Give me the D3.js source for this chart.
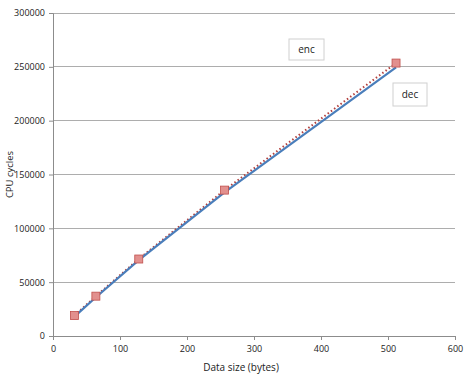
<!DOCTYPE html>
<html>
<head>
<meta charset="utf-8">
<script src="https://cdn.jsdelivr.net/npm/d3@7"></script>
<style>
  body { margin: 0; background: #fff; }
  svg text { font-family: "Open Sans", "DejaVu Sans", sans-serif; fill: #222; }
</style>
</head>
<body>
<svg id="chart" width="474" height="375"></svg>
<script>
// data
const sizes = [32, 64, 128, 256, 512];
const encCycles = [19000, 37000, 71500, 135500, 253500];
const decCycles = [18000, 36000, 70500, 133500, 249500];
const xTicks = [0, 100, 200, 300, 400, 500, 600];
const yTicks = [0, 50000, 100000, 150000, 200000, 250000, 300000];

const width = 474, height = 375;
const margin = { top: 13, right: 19, bottom: 39, left: 53 };

const svg = d3.select("#chart");

const x = d3.scaleLinear().domain([0, 600]).range([margin.left, width - margin.right]);
const y = d3.scaleLinear().domain([0, 300000]).range([height - margin.bottom, margin.top]);

// grid
svg.append("g")
  .selectAll("line")
  .data(yTicks.slice(1))
  .join("line")
  .attr("x1", x(0)).attr("x2", x(600))
  .attr("y1", d => y(d)).attr("y2", d => y(d))
  .attr("stroke", "#adadad")
  .attr("stroke-width", 1)
  .attr("shape-rendering", "crispEdges");

// axes
const yAxis = d3.axisLeft(y).tickValues(yTicks).tickFormat(d3.format("d")).tickSize(4).tickPadding(4);
const xAxis = d3.axisBottom(x).tickValues(xTicks).tickFormat(d3.format("d")).tickSize(4).tickPadding(6);

svg.append("g")
  .attr("transform", `translate(${margin.left},0)`)
  .call(yAxis)
  .call(g => g.selectAll("line, path").attr("stroke", "#8c8c8c"))
  .call(g => g.selectAll("text").attr("font-size", 9));

svg.append("g")
  .attr("transform", `translate(0,${height - margin.bottom})`)
  .call(xAxis)
  .call(g => g.selectAll("line, path").attr("stroke", "#8c8c8c"))
  .call(g => g.selectAll("text").attr("font-size", 9));

// axis titles
svg.append("text")
  .attr("transform", `translate(13,${(y(0) + y(300000)) / 2}) rotate(-90)`)
  .attr("text-anchor", "middle")
  .attr("font-size", 9.5)
  .text("CPU cycles");

svg.append("text")
  .attr("x", 241)
  .attr("y", 371)
  .attr("text-anchor", "middle")
  .attr("font-size", 10)
  .text("Data size (bytes)");

const line = d3.line().x(d => x(d[0])).y(d => y(d[1]));
const encPts = sizes.map((s, i) => [s, encCycles[i]]);
const decPts = sizes.map((s, i) => [s, decCycles[i]]);

// enc: dotted red line
svg.append("path")
  .datum(encPts)
  .attr("d", line)
  .attr("fill", "none")
  .attr("stroke", "#b3403d")
  .attr("stroke-width", 2)
  .attr("stroke-dasharray", "1.5 2.5");

// dec: solid blue line
svg.append("path")
  .datum(decPts)
  .attr("d", line)
  .attr("fill", "none")
  .attr("stroke", "#4a7ebb")
  .attr("stroke-width", 2.2);

// enc markers
svg.append("g")
  .selectAll("rect")
  .data(encPts)
  .join("rect")
  .attr("x", d => x(d[0]) - 4)
  .attr("y", d => y(d[1]) - 4)
  .attr("width", 8)
  .attr("height", 8)
  .attr("fill", "#e2908e")
  .attr("stroke", "#c0504d")
  .attr("stroke-width", 0.8);

// label boxes
const labels = [
  { name: "enc", cx: 306.5, cy: 49.5, w: 35, h: 21 },
  { name: "dec", cx: 410, cy: 94.5, w: 34, h: 23 }
];
const lg = svg.append("g").selectAll("g").data(labels).join("g")
  .attr("transform", d => `translate(${d.cx},${d.cy})`);
lg.append("rect")
  .attr("x", d => -d.w / 2).attr("y", d => -d.h / 2)
  .attr("width", d => d.w).attr("height", d => d.h)
  .attr("fill", "#fff")
  .attr("stroke", "#d0d0d0");
lg.append("text")
  .attr("text-anchor", "middle")
  .attr("dy", "0.35em")
  .attr("font-size", 10)
  .text(d => d.name);
</script>
</body>
</html>
